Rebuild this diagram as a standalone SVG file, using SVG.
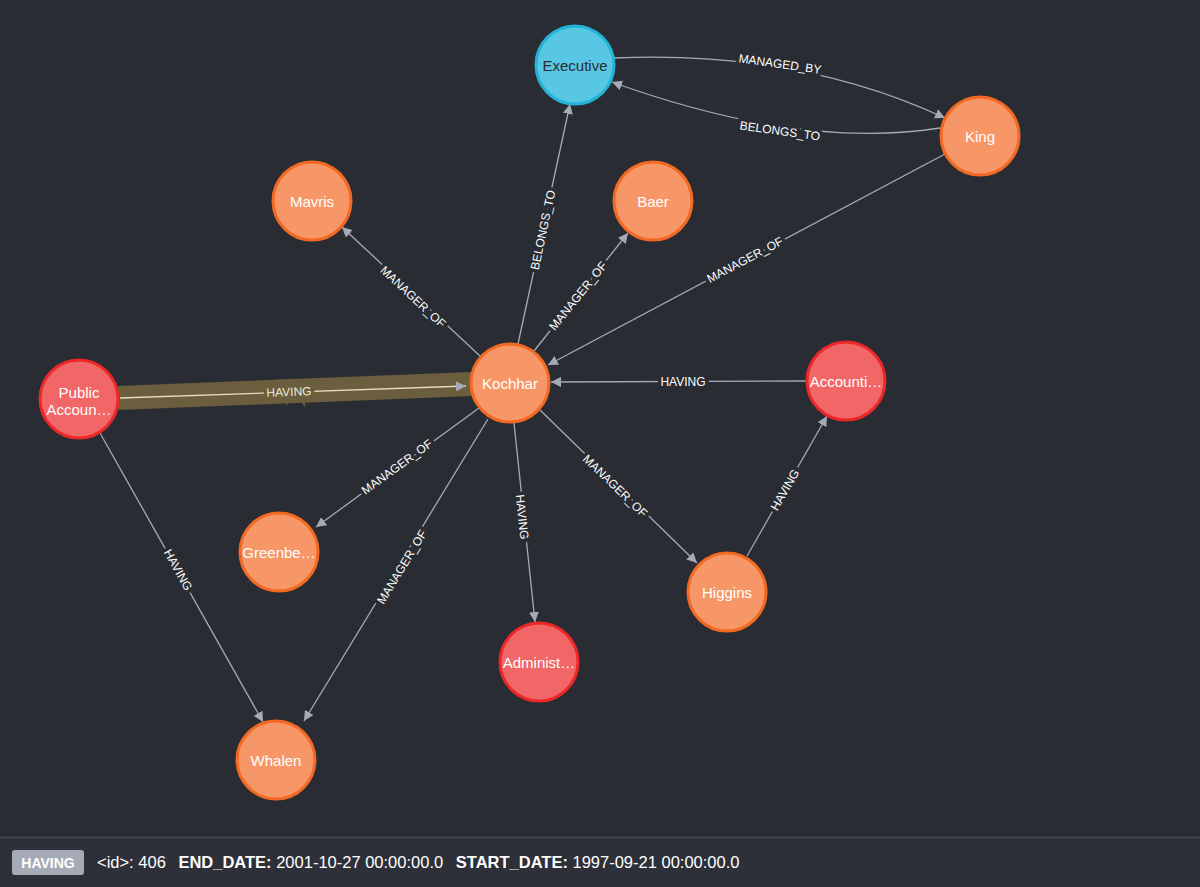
<svg xmlns="http://www.w3.org/2000/svg" width="1200" height="887" viewBox="0 0 1200 887">
<style>
.e{stroke:#a5abb6;stroke-width:1.3;fill:none;marker-end:url(#a)}
.l{font:12px "Liberation Sans",Arial,sans-serif;fill:#fff;text-anchor:middle;dominant-baseline:central;stroke:#292c33;stroke-width:7;paint-order:stroke}
.n text{font:15px "Liberation Sans",Arial,sans-serif;fill:#fff;text-anchor:middle;dominant-baseline:central}
.o circle{fill:#f79767;stroke:#f36924;stroke-width:3}
.r circle{fill:#f16667;stroke:#eb2728;stroke-width:3}
.b circle{fill:#57c7e3;stroke:#23b3d7;stroke-width:3}
.b text{fill:#2a2c34}
.f{font:16.5px "Liberation Sans",Arial,sans-serif;fill:#fff}
</style>
<defs><marker id="a" viewBox="0 0 10 10" refX="10" refY="5" markerWidth="10" markerHeight="10" markerUnits="userSpaceOnUse" orient="auto"><path d="M0,0L10,5L0,10z" fill="#a5abb6"/></marker></defs>
<rect width="1200" height="887" fill="#292c33"/>
<g id="connectors">
<line x1="118" y1="398" x2="472" y2="384" stroke="#6b5e3f" stroke-width="24"/>
<path class="e" d="M614,58 Q800,50 945,118"/><text class="l" x="780" y="64" transform="rotate(8 780 64)">MANAGED_BY</text>
<path class="e" d="M940,128 Q800,150 612,82"/><text class="l" x="780" y="131" transform="rotate(8 780 131)">BELONGS_TO</text>
<path class="e" d="M945,154 L548,365"/><text class="l" x="745" y="260" transform="rotate(-28 745 260)">MANAGER_OF</text>
<path class="e" d="M518,344 L570,104"/><text class="l" x="543" y="230" transform="rotate(-78 543 230)">BELONGS_TO</text>
<path class="e" d="M534,351 L628,233"/><text class="l" x="578" y="296" transform="rotate(-51 578 296)">MANAGER_OF</text>
<path class="e" d="M480,356 L342,227"/><text class="l" x="413" y="297" transform="rotate(43 413 297)">MANAGER_OF</text>
<path class="e" d="M806,381 L551,382"/><text class="l" x="683" y="382">HAVING</text>
<path d="M120,398 L466,386" stroke="#e8dcc0" stroke-width="1.3" marker-end="url(#a)"/><text class="l" x="289" y="392" transform="rotate(-2 289 392)" style="stroke:#6b5e3f;fill:#f2ead6">HAVING</text>
<path class="e" d="M479,408 L316,527"/><text class="l" x="397" y="467" transform="rotate(-36 397 467)">MANAGER_OF</text>
<path class="e" d="M488,419 L304,721"/><text class="l" x="402" y="567" transform="rotate(-58.6 402 567)">MANAGER_OF</text>
<path class="e" d="M514,423 L535,622"/><text class="l" x="522" y="517" transform="rotate(84 522 517)">HAVING</text>
<path class="e" d="M540,410 L697,563"/><text class="l" x="615" y="486" transform="rotate(44 615 486)">MANAGER_OF</text>
<path class="e" d="M747,556 L827,416"/><text class="l" x="785" y="490" transform="rotate(-60 785 490)">HAVING</text>
<path class="e" d="M100,433 L263,722"/><text class="l" x="178" y="570" transform="rotate(60.6 178 570)">HAVING</text>
</g>
<g id="executive" class="n b"><circle cx="575" cy="65" r="39"/><text x="575" y="65">Executive</text></g>
<g id="king" class="n o"><circle cx="980" cy="136" r="39"/><text x="980" y="136">King</text></g>
<g id="mavris" class="n o"><circle cx="312" cy="201" r="39"/><text x="312" y="201">Mavris</text></g>
<g id="baer" class="n o"><circle cx="653" cy="201" r="39"/><text x="653" y="201">Baer</text></g>
<g id="kochhar" class="n o"><circle cx="510" cy="383" r="39"/><text x="510" y="383">Kochhar</text></g>
<g id="public" class="n r"><circle cx="79" cy="399" r="39"/><text x="79" y="392">Public</text><text x="79" y="409">Accoun…</text></g>
<g id="accounting" class="n r"><circle cx="846" cy="381" r="39"/><text x="846" y="381">Accounti…</text></g>
<g id="greenberg" class="n o"><circle cx="279" cy="552" r="39"/><text x="279" y="552">Greenbe…</text></g>
<g id="higgins" class="n o"><circle cx="727" cy="592" r="39"/><text x="727" y="592">Higgins</text></g>
<g id="administ" class="n r"><circle cx="539" cy="662" r="39"/><text x="539" y="662">Administ…</text></g>
<g id="whalen" class="n o"><circle cx="276" cy="760" r="39"/><text x="276" y="760">Whalen</text></g>
<g id="footer">
<rect x="0" y="837" width="1200" height="50" fill="#2d3038"/>
<line x1="0" y1="837.5" x2="1200" y2="837.5" stroke="#42454d" stroke-width="2"/>
<rect x="12" y="850" width="72" height="25" rx="3" fill="#a5abb6"/>
<text x="48" y="868" class="f" style="font-weight:bold;text-anchor:middle;font-size:14px">HAVING</text>
<text x="97" y="868" class="f">&lt;id&gt;: 406 <tspan font-weight="bold" dx="8">END_DATE:</tspan> 2001-10-27 00:00:00.0 <tspan font-weight="bold" dx="8">START_DATE:</tspan> 1997-09-21 00:00:00.0</text>
</g>
</svg>
